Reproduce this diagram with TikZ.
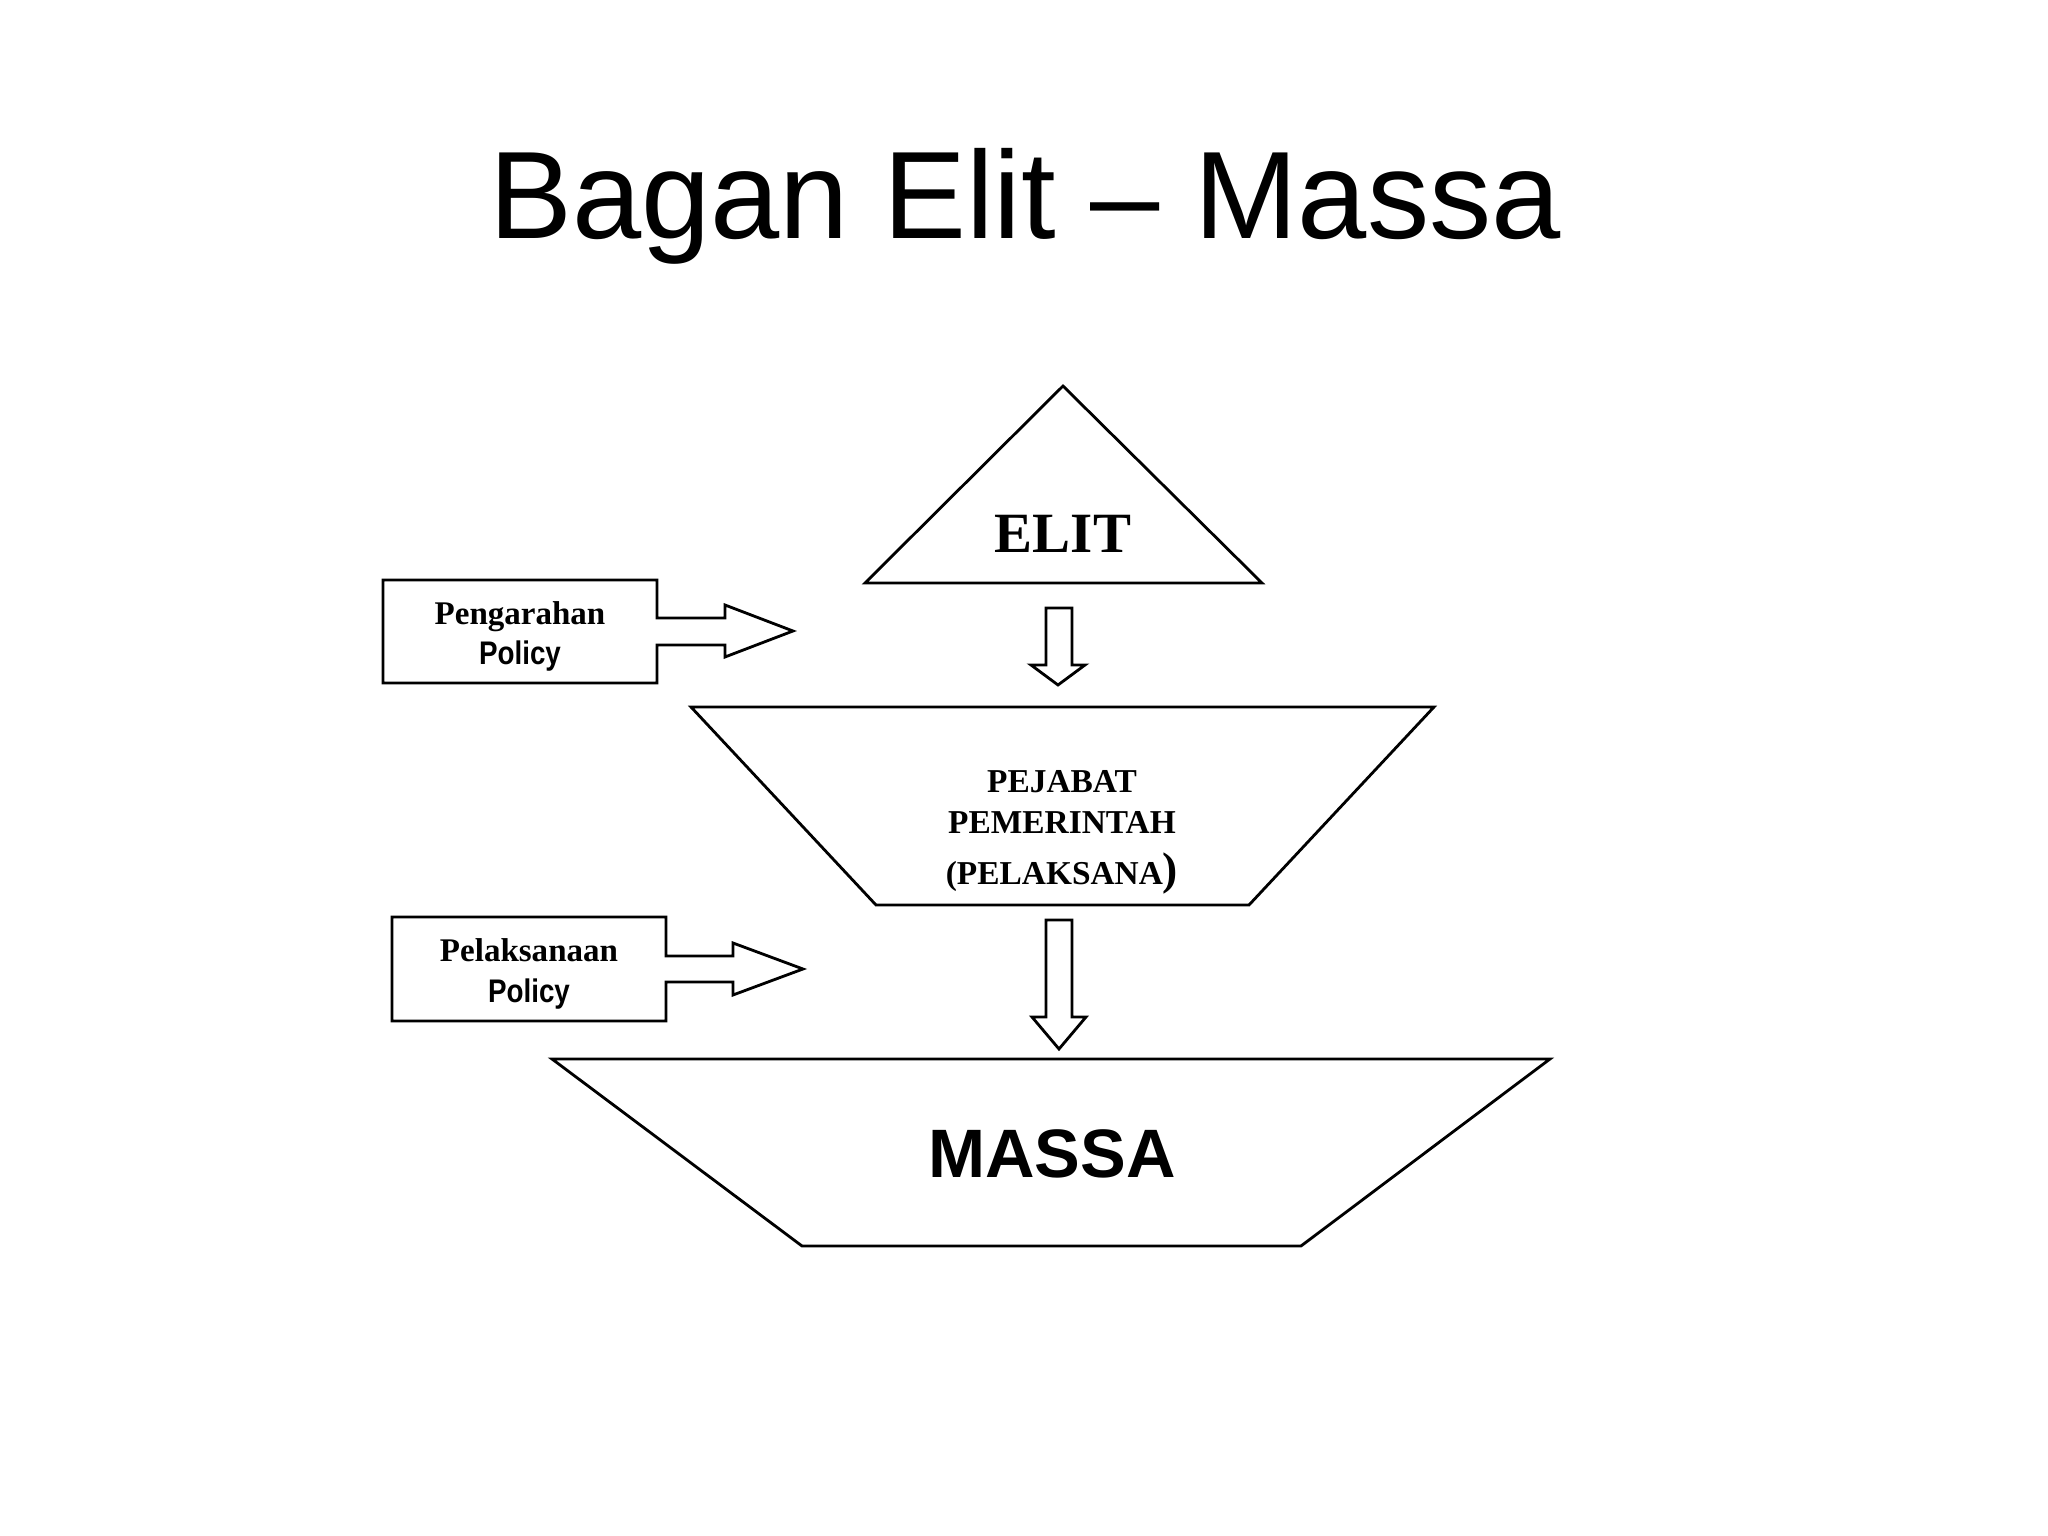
\documentclass[tikz,border=0pt]{standalone}
\usepackage{fontspec}
\setmainfont{Liberation Serif}
\newfontfamily\titlefont{Liberation Sans}
\newfontfamily\narrowsans[FakeStretch=0.85]{Liberation Sans}

\begin{document}
\begin{tikzpicture}[
  outline/.style={draw, line width=0.8pt, line join=miter},
  every node/.style={inner sep=0pt, align=center},
  boxtext/.style={font=\bfseries\fontsize{9.4}{11.4}\selectfont, anchor=base}
]
\useasboundingbox[fill=white] (0,0) rectangle (20.48,-15.36);

% title
\node[anchor=base, font=\titlefont\fontsize{35.4}{40}\selectfont] (title) at (10.25,-2.39) {Bagan Elit \textendash{} Massa};

% pyramid levels
\draw[outline] (10.63,-3.86) -- (12.62,-5.83) -- (8.65,-5.83) -- cycle;
\node[anchor=base, font=\bfseries\fontsize{16.2}{18}\selectfont] (elit) at (10.63,-5.53) {ELIT};

\draw[outline] (6.91,-7.07) -- (14.34,-7.07) -- (12.49,-9.05) -- (8.76,-9.05) -- cycle;
\node[anchor=base, font=\bfseries\fontsize{9.5}{11.7}\selectfont] (pejabat) at (10.62,-8.85)
  {PEJABAT\\ PEMERINTAH\\[3pt] (PELAKSANA{\fontsize{13}{13}\selectfont )}};

\draw[outline] (5.52,-10.59) -- (15.50,-10.59) -- (13.01,-12.46) -- (8.02,-12.46) -- cycle;
\node[anchor=base, font=\titlefont\bfseries\fontsize{19.5}{22}\selectfont] (massa) at (10.52,-11.77) {MASSA};

% block arrows down
\draw[outline] (10.46,-6.08) -- (10.72,-6.08) -- (10.72,-6.65) -- (10.85,-6.65)
  -- (10.58,-6.85) -- (10.31,-6.65) -- (10.46,-6.65) -- cycle;
\draw[outline] (10.46,-9.20) -- (10.72,-9.20) -- (10.72,-10.17) -- (10.86,-10.17)
  -- (10.59,-10.49) -- (10.32,-10.17) -- (10.46,-10.17) -- cycle;

% callouts
\draw[outline] (3.83,-5.80) -- (6.57,-5.80) -- (6.57,-6.18) -- (7.25,-6.18) -- (7.25,-6.05)
  -- (7.93,-6.31) -- (7.25,-6.57) -- (7.25,-6.45) -- (6.57,-6.45) -- (6.57,-6.83)
  -- (3.83,-6.83) -- cycle;
\node[boxtext] (pengarahan) at (5.20,-6.65) {Pengarahan\\ {\narrowsans\fontsize{9.3}{11.4}\selectfont Policy}};

\draw[outline] (3.92,-9.17) -- (6.66,-9.17) -- (6.66,-9.56) -- (7.33,-9.56) -- (7.33,-9.43)
  -- (8.03,-9.69) -- (7.33,-9.95) -- (7.33,-9.82) -- (6.66,-9.82) -- (6.66,-10.21)
  -- (3.92,-10.21) -- cycle;
\node[boxtext] (pelaksanaan) at (5.29,-10.02) {Pelaksanaan\\ {\narrowsans\fontsize{9.3}{11.4}\selectfont Policy}};
\end{tikzpicture}
\end{document}
